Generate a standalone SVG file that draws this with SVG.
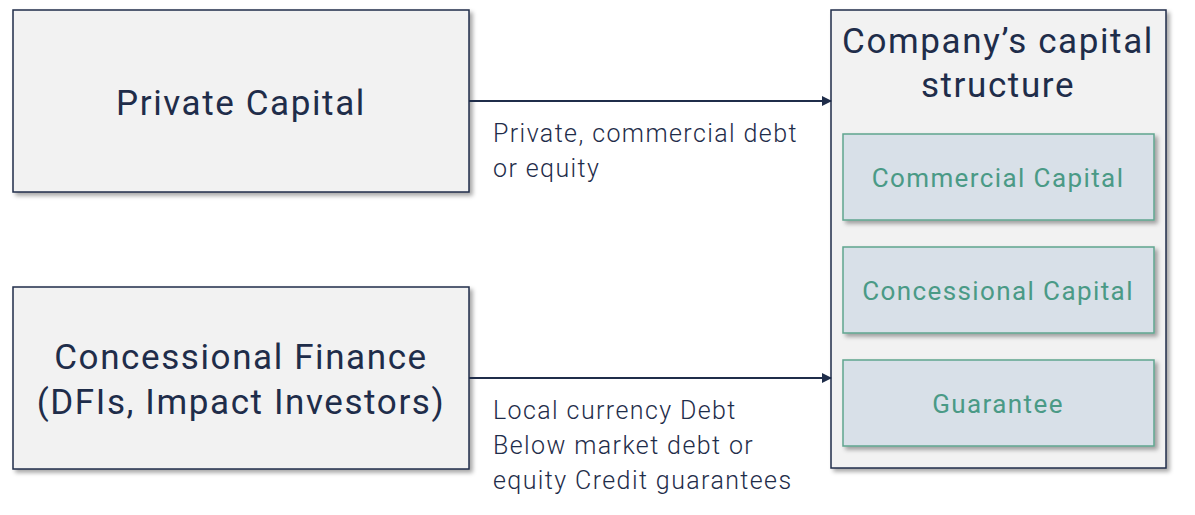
<svg xmlns="http://www.w3.org/2000/svg" width="1195" height="515" viewBox="0 0 1195 515">
<defs>
<filter id="sh" x="-5%" y="-5%" width="115%" height="115%"><feDropShadow dx="3" dy="3" stdDeviation="2" flood-color="#000" flood-opacity="0.35"/></filter>
<marker id="ar" markerWidth="10" markerHeight="10" refX="9" refY="5" orient="auto" markerUnits="userSpaceOnUse"><path d="M0,0 L10,5 L0,10 z" fill="#1f2d4a"/></marker>
<style>
.box{fill:#f2f2f2;stroke:#1f2d4a;stroke-width:1.5;filter:url(#sh)}
.in{fill:#d8e0e8;stroke:#5fa58f;stroke-width:1.5;filter:url(#sh)}
.t{font-family:Roboto,"Liberation Sans",sans-serif;fill:#1f2d4a;text-anchor:middle;letter-spacing:1.6px}
.big{font-size:35px}
.it{font-family:Roboto,"Liberation Sans",sans-serif;fill:#4a9a86;font-size:26px;text-anchor:middle;letter-spacing:1.4px}
.lbl{font-family:Roboto,"Liberation Sans",sans-serif;font-weight:300;fill:#1f2d4a;font-size:25px;letter-spacing:1.4px}
.c{stroke:#1f2d4a;stroke-width:2;fill:none;marker-end:url(#ar)}
</style>
</defs>
<g id="private"><rect class="box" x="13" y="10" width="456" height="182"/><text class="t big" x="241" y="115">Private Capital</text></g>
<g id="concessional"><rect class="box" x="13" y="287" width="456" height="182"/><text class="t big" x="241" y="369">Concessional Finance</text><text class="t big" x="241" y="414">(DFIs, Impact Investors)</text></g>
<g id="company"><rect class="box" x="831" y="10" width="335" height="458"/><text class="t big" x="998" y="53">Company’s capital</text><text class="t big" x="998" y="97">structure</text></g>
<g id="commercial"><rect class="in" x="843" y="134" width="311" height="86"/><text class="it" x="998" y="187">Commercial Capital</text></g>
<g id="concap"><rect class="in" x="843" y="247" width="311" height="86"/><text class="it" x="998" y="300">Concessional Capital</text></g>
<g id="guarantee"><rect class="in" x="843" y="360" width="311" height="86"/><text class="it" x="998" y="413">Guarantee</text></g>
<g id="connectors">
<line class="c" x1="469" y1="101" x2="831" y2="101"/>
<line class="c" x1="469" y1="378" x2="831" y2="378"/>
<text class="lbl" x="493" y="142">Private, commercial debt</text>
<text class="lbl" x="493" y="177">or equity</text>
<text class="lbl" x="493" y="419">Local currency Debt</text>
<text class="lbl" x="493" y="454">Below market debt or</text>
<text class="lbl" x="493" y="489">equity Credit guarantees</text>
</g>
</svg>
